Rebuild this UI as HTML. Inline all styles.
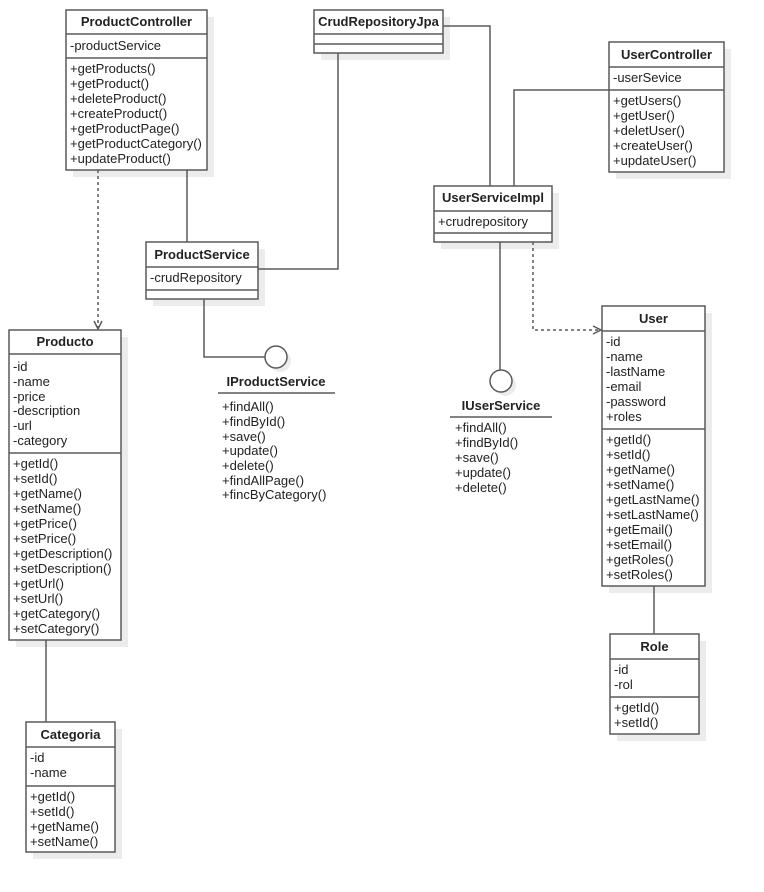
<!DOCTYPE html>
<html><head><meta charset="utf-8"><style>
html,body{margin:0;padding:0;background:#fff}
svg{display:block}
text{font-family:"Liberation Sans",Arial,sans-serif;font-size:13px;fill:#222}
.b{font-weight:bold;text-anchor:middle}
.box{fill:#fff;stroke:#5a5a5a;stroke-width:1.5}
.sh{fill:#ececec}
.ln{stroke:#5a5a5a;stroke-width:1.5;fill:none}
.dl{stroke:#5a5a5a;stroke-width:1.5;fill:none;stroke-dasharray:3,3}
</style></head><body>
<svg width="764" height="892" viewBox="0 0 764 892" xmlns="http://www.w3.org/2000/svg">

<!-- ProductController -->
<rect class="sh" x="73" y="17" width="141" height="160"/>
<rect class="box" x="66" y="10" width="141" height="160"/>
<path class="ln" d="M66 34H207M66 58H207"/>
<text class="b" x="136.5" y="26">ProductController</text>
<text x="70" y="50">-productService</text>
<text x="70" y="73">+getProducts()</text>
<text x="70" y="88">+getProduct()</text>
<text x="70" y="103">+deleteProduct()</text>
<text x="70" y="118">+createProduct()</text>
<text x="70" y="133">+getProductPage()</text>
<text x="70" y="148">+getProductCategory()</text>
<text x="70" y="163">+updateProduct()</text>

<!-- CrudRepositoryJpa -->
<rect class="sh" x="321" y="17" width="129" height="43"/>
<rect class="box" x="314" y="10" width="129" height="43"/>
<path class="ln" d="M314 34H443M314 44H443"/>
<text class="b" x="378.5" y="26">CrudRepositoryJpa</text>

<!-- UserController -->
<rect class="sh" x="616" y="49" width="115" height="130"/>
<rect class="box" x="609" y="42" width="115" height="130"/>
<path class="ln" d="M609 67H724M609 90H724"/>
<text class="b" x="666.5" y="59">UserController</text>
<text x="613" y="82">-userSevice</text>
<text x="613" y="105">+getUsers()</text>
<text x="613" y="120">+getUser()</text>
<text x="613" y="135">+deletUser()</text>
<text x="613" y="150">+createUser()</text>
<text x="613" y="165">+updateUser()</text>

<!-- UserServiceImpl -->
<rect class="sh" x="441" y="193" width="118" height="56"/>
<rect class="box" x="434" y="186" width="118" height="56"/>
<path class="ln" d="M434 211H552M434 233H552"/>
<text class="b" x="493" y="202">UserServiceImpl</text>
<text x="438" y="226">+crudrepository</text>

<!-- ProductService -->
<rect class="sh" x="153" y="249" width="112" height="57"/>
<rect class="box" x="146" y="242" width="112" height="57"/>
<path class="ln" d="M146 267H258M146 290H258"/>
<text class="b" x="202" y="259">ProductService</text>
<text x="150" y="282">-crudRepository</text>

<!-- IProductService -->
<circle cx="280" cy="361" r="11" fill="#ececec"/>
<circle cx="276" cy="357" r="11" fill="#fff" stroke="#5a5a5a" stroke-width="1.5"/>
<text class="b" x="276" y="386">IProductService</text>
<path class="ln" d="M218 393H335"/>
<text x="222" y="411">+findAll()</text>
<text x="222" y="426">+findById()</text>
<text x="222" y="441">+save()</text>
<text x="222" y="455">+update()</text>
<text x="222" y="470">+delete()</text>
<text x="222" y="485">+findAllPage()</text>
<text x="222" y="499">+fincByCategory()</text>

<!-- IUserService -->
<circle cx="505" cy="385" r="11" fill="#ececec"/>
<circle cx="501" cy="381" r="11" fill="#fff" stroke="#5a5a5a" stroke-width="1.5"/>
<text class="b" x="501" y="410">IUserService</text>
<path class="ln" d="M450 417H552"/>
<text x="455" y="432">+findAll()</text>
<text x="455" y="447">+findById()</text>
<text x="455" y="462">+save()</text>
<text x="455" y="477">+update()</text>
<text x="455" y="492">+delete()</text>

<!-- Producto -->
<rect class="sh" x="16" y="337" width="112" height="310"/>
<rect class="box" x="9" y="330" width="112" height="310"/>
<path class="ln" d="M9 354H121M9 453H121"/>
<text class="b" x="65" y="346">Producto</text>
<text x="13" y="371">-id</text>
<text x="13" y="386">-name</text>
<text x="13" y="401">-price</text>
<text x="13" y="415">-description</text>
<text x="13" y="430">-url</text>
<text x="13" y="445">-category</text>
<text x="13" y="468">+getId()</text>
<text x="13" y="483">+setId()</text>
<text x="13" y="498">+getName()</text>
<text x="13" y="513">+setName()</text>
<text x="13" y="528">+getPrice()</text>
<text x="13" y="543">+setPrice()</text>
<text x="13" y="558">+getDescription()</text>
<text x="13" y="573">+setDescription()</text>
<text x="13" y="588">+getUrl()</text>
<text x="13" y="603">+setUrl()</text>
<text x="13" y="618">+getCategory()</text>
<text x="13" y="633">+setCategory()</text>

<!-- Categoria -->
<rect class="sh" x="33" y="729" width="89" height="130"/>
<rect class="box" x="26" y="722" width="89" height="130"/>
<path class="ln" d="M26 747H115M26 786H115"/>
<text class="b" x="70.5" y="739">Categoria</text>
<text x="30" y="762">-id</text>
<text x="30" y="777">-name</text>
<text x="30" y="801">+getId()</text>
<text x="30" y="816">+setId()</text>
<text x="30" y="831">+getName()</text>
<text x="30" y="846">+setName()</text>

<!-- User -->
<rect class="sh" x="609" y="313" width="103" height="280"/>
<rect class="box" x="602" y="306" width="103" height="280"/>
<path class="ln" d="M602 331H705M602 429H705"/>
<text class="b" x="653.5" y="323">User</text>
<text x="606" y="346">-id</text>
<text x="606" y="361">-name</text>
<text x="606" y="376">-lastName</text>
<text x="606" y="391">-email</text>
<text x="606" y="406">-password</text>
<text x="606" y="421">+roles</text>
<text x="606" y="444">+getId()</text>
<text x="606" y="459">+setId()</text>
<text x="606" y="474">+getName()</text>
<text x="606" y="489">+setName()</text>
<text x="606" y="504">+getLastName()</text>
<text x="606" y="519">+setLastName()</text>
<text x="606" y="534">+getEmail()</text>
<text x="606" y="549">+setEmail()</text>
<text x="606" y="564">+getRoles()</text>
<text x="606" y="579">+setRoles()</text>

<!-- Role -->
<rect class="sh" x="617" y="641" width="89" height="100"/>
<rect class="box" x="610" y="634" width="89" height="100"/>
<path class="ln" d="M610 659H699M610 697H699"/>
<text class="b" x="654.5" y="651">Role</text>
<text x="614" y="674">-id</text>
<text x="614" y="689">-rol</text>
<text x="614" y="712">+getId()</text>
<text x="614" y="727">+setId()</text>

<!-- connectors (drawn last so shadows don't hide them) -->
<path class="ln" d="M187 170V242"/>
<path class="ln" d="M338 53V269H258"/>
<path class="ln" d="M443 26H490V186"/>
<path class="ln" d="M609 90H514V186"/>
<path class="dl" d="M98 170V328"/>
<path class="ln" d="M94 321L98 329L102 321"/>
<path class="ln" d="M500 242V370"/>
<path class="dl" d="M533 242V330H600"/>
<path class="ln" d="M593 326L601 330L593 334"/>
<path class="ln" d="M204 299V357H265"/>
<path class="ln" d="M654 586V634"/>
<path class="ln" d="M46 640V722"/>
</svg>
</body></html>
